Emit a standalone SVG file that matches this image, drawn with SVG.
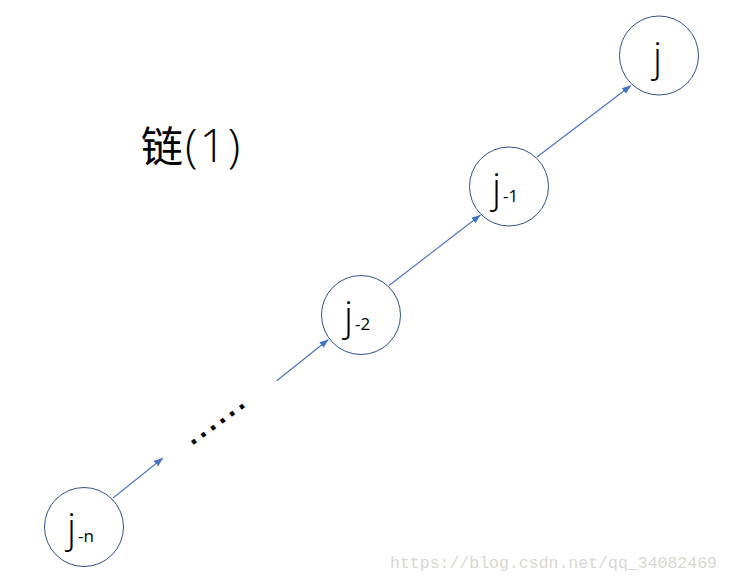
<svg xmlns="http://www.w3.org/2000/svg" width="730" height="586" viewBox="0 0 730 586">
<style>
.node circle{fill:#fff;stroke:#2F528F;stroke-width:1}
.lbl{font-family:"Open Sans","Noto Sans",sans-serif;font-weight:300;font-size:40px;fill:#000}
.sub{font-size:17px;font-weight:400}
.conn line{stroke:#4472C4;stroke-width:1.1;marker-end:url(#ah)}
</style>
<defs>
<marker id="ah" markerUnits="userSpaceOnUse" markerWidth="9" markerHeight="7" refX="9" refY="3.5" orient="auto">
<path d="M0,0 L9,3.5 L0,7 z" fill="#4472C4"/>
</marker>
</defs>
<rect width="730" height="586" fill="#fff"/>
<text x="141" y="162" font-family="'Noto Sans CJK SC',sans-serif" font-size="42" fill="#000">链<tspan dx="2" letter-spacing="2" font-family="'Open Sans','Noto Sans',sans-serif" font-weight="300" font-size="46">(1)</tspan></text>
<g class="conn">
<line x1="113" y1="498" x2="163" y2="458"/>
<line x1="276.7" y1="380.7" x2="328.5" y2="339.5"/>
<line x1="389" y1="285.5" x2="480.5" y2="215"/>
<line x1="537" y1="157" x2="631" y2="85.5"/>
</g>
<g id="dots" transform="translate(194,441.7) rotate(-36.1)">
<text x="-5.9" y="2.1" font-family="'Liberation Sans',sans-serif" font-size="42.7" fill="#000">......</text>
</g>
<g id="n-jn" class="node">
<circle cx="84" cy="527" r="39.5"/>
<text class="lbl" x="67" y="542">j<tspan class="sub" dx="2">-n</tspan></text>
</g>
<g id="n-j2" class="node">
<circle cx="361" cy="315" r="39.5"/>
<text class="lbl" x="344" y="330">j<tspan class="sub" dx="2">-2</tspan></text>
</g>
<g id="n-j1" class="node">
<circle cx="509" cy="186.5" r="39.5"/>
<text class="lbl" x="492" y="201.5">j<tspan class="sub" dx="2">-1</tspan></text>
</g>
<g id="n-j" class="node">
<circle cx="659" cy="55.5" r="39.5"/>
<text class="lbl" x="653" y="71">j</text>
</g>
<text x="390" y="568" font-family="'Liberation Mono',monospace" font-size="17" fill="#d9d7cf" textLength="327" lengthAdjust="spacingAndGlyphs">https://blog.csdn.net/qq_34082469</text>
</svg>
